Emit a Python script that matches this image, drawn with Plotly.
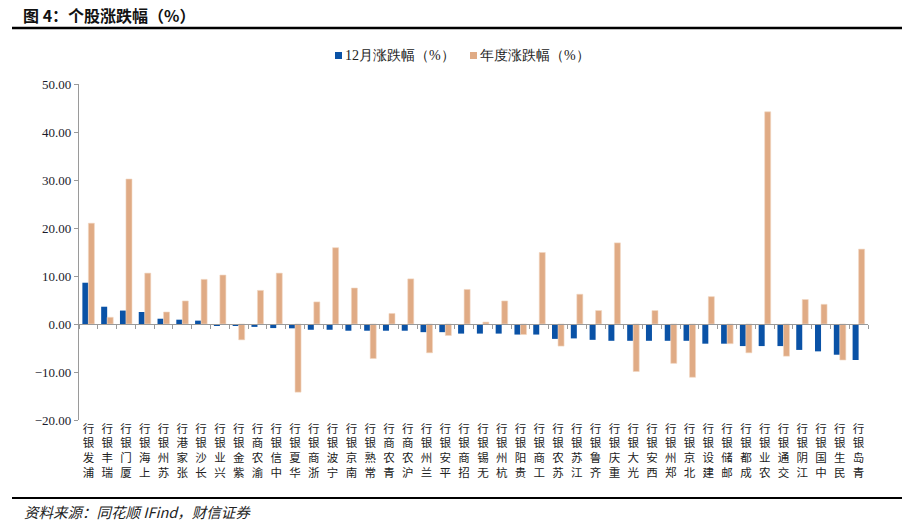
import plotly.graph_objects as go

banks = ["浦发银行", "瑞丰银行", "厦门银行", "上海银行", "苏州银行", "张家港行", "长沙银行",
         "兴业银行", "紫金银行", "渝农商行", "中信银行", "华夏银行", "浙商银行", "宁波银行",
         "南京银行", "常熟银行", "青农商行", "沪农商行", "兰州银行", "平安银行", "招商银行",
         "无锡银行", "杭州银行", "贵阳银行", "工商银行", "苏农银行", "江苏银行", "齐鲁银行",
         "重庆银行", "光大银行", "西安银行", "郑州银行", "北京银行", "建设银行", "邮储银行",
         "成都银行", "农业银行", "交通银行", "江阴银行", "中国银行", "民生银行", "青岛银行"]

dec_change = [8.6, 3.6, 2.8, 2.5, 1.1, 0.9, 0.7,
              -0.35, -0.35, -0.6, -0.85, -0.9, -1.2, -1.2,
              -1.4, -1.4, -1.4, -1.4, -1.7, -1.7, -2.0,
              -2.0, -2.0, -2.2, -2.2, -3.1, -3.0, -3.3,
              -3.5, -3.5, -3.5, -3.5, -3.5, -4.1, -4.1,
              -4.6, -4.6, -4.6, -5.4, -5.7, -6.4, -7.5]

year_change = [21.0, 1.4, 30.2, 10.6, 2.5, 4.8, 9.3,
               10.2, -3.3, 7.0, 10.6, -14.2, 4.6, 15.9,
               7.5, -7.2, 2.2, 9.4, -6.0, -2.4, 7.2,
               0.4, 4.8, -2.2, 14.9, -4.6, 6.2, 2.8,
               16.9, -9.9, 2.8, -8.2, -11.1, 5.7, -4.1,
               -6.0, 44.2, -6.7, 5.1, 4.1, -7.5, 15.6]

y_ticks = [-20, -10, 0, 10, 20, 30, 40, 50]

series_names = ["12月涨跌幅（%）", "年度涨跌幅（%）"]
title_text = "图 4：个股涨跌幅（%）"
source_text = "资料来源：同花顺 IFind，财信证券"

BLUE = "#0A52A6"
ORANGE = "#E0AB85"
SERIF = "Liberation Serif"
CJK = "Noto Sans CJK SC"

# plot area in pixels
W, H = 910, 526
L, R, T, B = 79, 868, 84, 420

def px_x(p):
    return (p - L) / (R - L)

def px_y(p):
    return (B - p) / (B - T)

# labels read bottom-to-top with upright characters, as in the reference
stacked_labels = ["<br>".join(list(b)[::-1]) for b in banks]
x_range = [-0.5, len(banks) - 0.5]

fig = go.Figure()
fig.add_trace(go.Bar(x=banks, y=dec_change, name=series_names[0],
                     marker=dict(color=BLUE, line=dict(width=0))))
fig.add_trace(go.Bar(x=banks, y=year_change, name=series_names[1],
                     marker=dict(color=ORANGE, line=dict(color="#F2D7C3", width=0.6))))
# helper trace for the axis drawn at zero
fig.add_trace(go.Scatter(x=banks, y=[None] * len(banks), xaxis="x2", yaxis="y",
                         showlegend=False, hoverinfo="skip", mode="lines"))

fig.update_layout(
    width=W, height=H,
    margin=dict(l=L, r=W - R, t=T, b=H - B, autoexpand=False),
    plot_bgcolor="white", paper_bgcolor="white",
    barmode="group", bargap=0.36, bargroupgap=0.0,
    showlegend=False,
    xaxis=dict(type="category", categoryorder="array", categoryarray=banks,
               range=x_range, autorange=False,
               tickmode="array", tickvals=banks, ticktext=stacked_labels,
               tickangle=0, showline=False, ticks="", showgrid=False, zeroline=False,
               tickfont=dict(family=CJK, size=11.5, color="#222")),
    xaxis2=dict(type="category", overlaying="x", matches="x", anchor="free",
                categoryorder="array", categoryarray=banks,
                range=x_range, autorange=False,
                position=px_y(324.3), showline=True, linecolor="#9a9a9a", linewidth=1.3,
                ticks="outside", ticklen=4, tickcolor="#9a9a9a", tickson="boundaries",
                showticklabels=False, showgrid=False, zeroline=False),
    yaxis=dict(range=[-20, 50], tickmode="array", tickvals=y_ticks,
               tickformat=".2f", showline=True, linecolor="#9a9a9a", linewidth=1.3,
               ticks="outside", ticklen=4, tickcolor="#9a9a9a",
               showgrid=False, zeroline=False,
               tickfont=dict(family=SERIF, size=13, color="#1a1a2a")),
)

# custom legend: small squares right next to the text
legend_items = [(335, BLUE, series_names[0]), (470, ORANGE, series_names[1])]
for x0, col, name in legend_items:
    fig.add_shape(type="rect", xref="paper", yref="paper",
                  x0=px_x(x0), x1=px_x(x0 + 7), y0=px_y(59), y1=px_y(52),
                  fillcolor=col, line=dict(width=0))
    fig.add_annotation(xref="paper", yref="paper", x=px_x(x0 + 8), y=px_y(55),
                       xanchor="left", yanchor="middle", showarrow=False,
                       text=name, font=dict(family=SERIF, size=14, color="#222"))

# title and source
fig.add_annotation(xref="paper", yref="paper", x=px_x(21), y=px_y(15),
                   xanchor="left", yanchor="middle", showarrow=False,
                   text="<b>" + title_text + "</b>",
                   font=dict(family=CJK, size=16, color="#111"))
fig.add_annotation(xref="paper", yref="paper", x=px_x(22), y=px_y(511),
                   xanchor="left", yanchor="middle", showarrow=False,
                   text="<i>" + source_text + "</i>",
                   font=dict(family=CJK, size=14.5, color="#222"))

# header and footer rules
fig.add_shape(type="line", xref="paper", yref="paper",
              x0=px_x(12), x1=px_x(902), y0=px_y(28), y1=px_y(28),
              line=dict(color="black", width=2.5))
fig.add_shape(type="line", xref="paper", yref="paper",
              x0=px_x(12), x1=px_x(902), y0=px_y(498), y1=px_y(498),
              line=dict(color="black", width=2))

fig.write_html("out.html", config={"displayModeBar": False},
               post_script="document.body.style.margin='0';document.body.style.padding='0';")
